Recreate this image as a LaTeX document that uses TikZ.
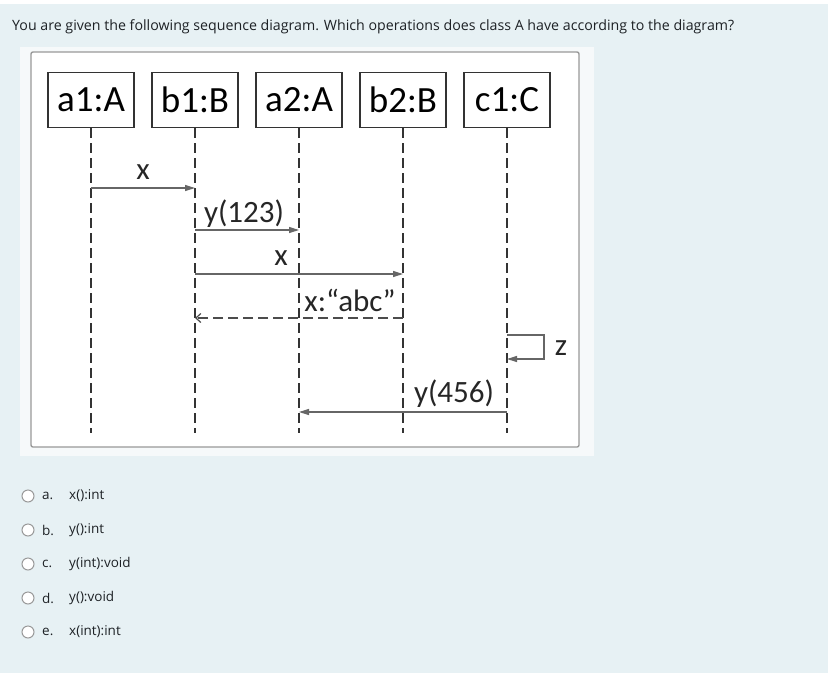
\documentclass[tikz,border=0pt]{standalone}
\usepackage{fontspec}
\setmainfont{Open Sans}
\newfontfamily\diagfont{Carlito}
\usetikzlibrary{arrows.meta}
\definecolor{pagebg}{HTML}{E7F1F4}
\definecolor{panelbg}{HTML}{F6F9FA}
\definecolor{txt}{HTML}{1D2125}
\tikzset{
 obj/.style={draw=black!80,line width=1.4pt,minimum width=86pt,minimum height=55pt,inner sep=0pt,font=\diagfont\fontsize{37}{37}\selectfont},
 life/.style={draw=black!80,line width=1.2pt,dash pattern=on 10pt off 5pt},
 msg/.style={draw=black!60,line width=1.2pt,-{Triangle[length=10pt,width=6pt]}},
 ret/.style={draw=black!70,line width=1.2pt,dash pattern=on 10pt off 5pt,-{Straight Barb[length=5pt,width=9pt]}},
 lbl/.style={font=\diagfont\fontsize{31}{31}\selectfont,inner sep=0pt,text=black!85},
 radio/.style={draw=black!40,line width=1pt,fill=white,circle,minimum size=12pt,inner sep=0pt},
 opt/.style={font=\fontsize{13.5}{15}\selectfont,text=txt,anchor=west,inner sep=0pt}
}
\begin{document}
\begin{tikzpicture}[x=1pt,y=-1pt]
\useasboundingbox (0,0) rectangle (828,673);
\fill[white] (0,0) rectangle (828,673);
\fill[pagebg] (0,4) rectangle (828,673);
\node[anchor=west,inner sep=0pt,font=\fontsize{14.2}{16}\selectfont,text=txt] (q) at (12,27) {You are given the following sequence diagram. Which operations does class A have according to the diagram?};
\fill[panelbg] (20,47) rectangle (594,456);
\draw[black!40,fill=white,line width=1.4pt,rounded corners=2pt] (31,52) rectangle (579,447);
% objects
\foreach \n/\t/\x in {a1/a1:A/91,b1/b1:B/195,a2/a2:A/299,b2/b2:B/403,c1/c1:C/507}{
  \node[obj] (\n) at (\x,100) {\t};
  \coordinate (\n e) at (\x,433);
  \draw[life] (\n.south) -- (\n e);
}
% messages
\coordinate (m1s) at (91,188); \coordinate (m1e) at (195,188);
\draw[msg] (m1s) -- (m1e);
\node[lbl] (l1) at (143,172) {x};
\coordinate (m2s) at (195,230); \coordinate (m2e) at (299,230);
\draw[msg] (m2s) -- (m2e);
\node[lbl] (l2) at (244,214) {y(123)};
\coordinate (m3s) at (195,274); \coordinate (m3e) at (403,274);
\draw[msg] (m3s) -- (m3e);
\node[lbl] (l3) at (281,258) {x};
\coordinate (m4s) at (403,318); \coordinate (m4e) at (195,318);
\draw[ret] (m4s) -- (m4e);
\node[lbl] (l4) at (350,300) {x:“abc”};
\coordinate (m5s) at (507,335); \coordinate (m5e) at (507,359);
\draw[msg] (m5s) -- (544,335) -- (544,359) -- (m5e);
\node[lbl] (l5) at (561,348) {z};
\coordinate (m6s) at (507,412); \coordinate (m6e) at (299,412);
\draw[msg] (m6s) -- (m6e);
\node[lbl] (l6) at (454,394) {y(456)};
% options
\foreach \i/\l/\t in {0/a./x():int,1/b./y():int,2/c./y(int):void,3/d./y():void,4/e./x(int):int}{
  \node[radio] (r\i) at (28,{496+34*\i}) {};
  \node[opt] (k\i) at (42,{496+34*\i}) {\l};
  \node[opt] (t\i) at (69,{496+34*\i}) {\t};
}
\end{tikzpicture}
\end{document}
